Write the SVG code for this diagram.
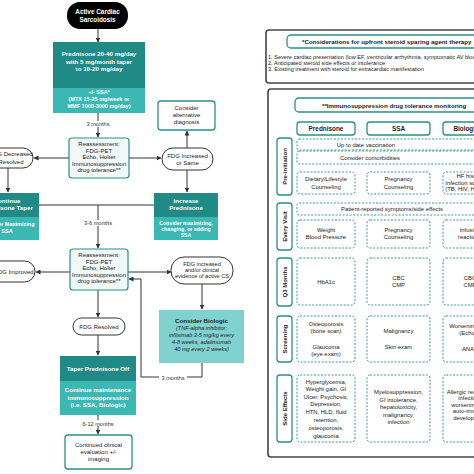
<svg xmlns="http://www.w3.org/2000/svg" width="474" height="474" viewBox="0 0 474 474">
<defs>
<marker id="ah" markerWidth="5" markerHeight="5" refX="4.5" refY="2.5" orient="auto" markerUnits="userSpaceOnUse"><path d="M0,0 L5,2.5 L0,5 Z" fill="#333"/></marker>
<style>
text{font-family:"Liberation Sans",Arial,sans-serif;text-anchor:middle}
.w{fill:#fff;font-weight:bold;font-size:6.2px}
.wl{fill:#fff;font-weight:bold;font-size:5.5px}
.d{fill:#222;font-size:6px}
.db{fill:#222;font-size:6.2px;font-weight:bold}
.i{fill:#222;font-size:5.6px;font-style:italic}
.lab{fill:#333;font-size:5.6px}
.s{fill:#222;font-size:5.9px}
.sb{fill:#222;font-size:6.2px;font-weight:bold}
.hb{fill:#222;font-size:6.4px;font-weight:bold}
.lb{fill:#222;font-size:6px;font-weight:bold}
.ln{fill:#222;font-size:5.6px;text-anchor:start}
.dk{fill:#1f8a86}
.lt{fill:#3bb7b4}
.pl{fill:#7fd2cf}
.rb{fill:#f1f8f8;stroke:#2a8f8a;stroke-width:1.2}
.pill{fill:#fff;stroke:#333;stroke-width:1}
.hd{fill:#fff;stroke:#2a8f8a;stroke-width:1.3}
.ds{fill:none;stroke:#2a8f8a;stroke-width:0.9;stroke-dasharray:2,1.5}
.ob{fill:#fff;stroke:#444;stroke-width:1.6}
.c{fill:none;stroke:#333;stroke-width:1}
.a{fill:none;stroke:#333;stroke-width:1;marker-end:url(#ah)}
</style>
</defs>
<rect width="474" height="474" fill="#fff"/>

<g id="connectors">
<path class="a" d="M98,29 V42"/>
<path class="a" d="M98,113 V137"/>
<path class="a" d="M69,158 H34"/>
<path class="a" d="M129,158 H161"/>
<path class="a" d="M187,148 V131"/>
<path class="a" d="M8,168 V192"/>
<path class="a" d="M187,170 V192"/>
<path class="c" d="M39,205 H154"/>
<path class="a" d="M98,205 V248"/>
<path class="a" d="M70,272 H36"/>
<path class="a" d="M128,272 H171"/>
<path class="a" d="M202,284 V309"/>
<path class="a" d="M202,363 V377 H141 V279 H129"/>
<path class="a" d="M98,290 V317"/>
<path class="a" d="M98,335 V355"/>
<path class="a" d="M98,415 V434"/>
<rect x="85" y="121" width="26" height="6" fill="#fff"/>
<text class="lab" x="98" y="126">3 months</text>
<rect x="82" y="220" width="32" height="6" fill="#fff"/>
<text class="lab" x="98" y="225">3-6 months</text>
<rect x="159" y="374" width="28" height="6" fill="#fff"/>
<text class="lab" x="173" y="379.5">3 months</text>
<rect x="82" y="420" width="32" height="6" fill="#fff"/>
<text class="lab" x="98" y="425.5">6-12 months</text>
</g>

<g id="start">
<rect x="67" y="2" width="61" height="27" rx="13" fill="#000"/>
<text class="w" x="97.5" y="14" style="font-size:6.4px">Active Cardiac</text>
<text class="w" x="97.5" y="22" style="font-size:6.4px">Sarcoidosis</text>
</g>

<g id="prednisone">
<rect class="dk" x="53" y="42" width="92" height="46"/>
<text class="w" x="99" y="56">Prednisone 20-40 mg/day</text>
<text class="w" x="99" y="63.5">with 5 mg/month taper</text>
<text class="w" x="99" y="71">to 10-20 mg/day</text>
<rect class="lt" x="53" y="88" width="92" height="25"/>
<text class="wl" x="99" y="94">+/- SSA*</text>
<text class="wl" x="99" y="101">(MTX 15-25 mg/week or</text>
<text class="wl" x="99" y="108">MMF 1000-3000 mg/day)</text>
</g>

<g id="reassess1">
<rect class="rb" x="69" y="138" width="60" height="40" rx="3"/>
<text class="d" x="99" y="146">Reassessment:</text>
<text class="d" x="99" y="152.5">FDG-PET</text>
<text class="d" x="99" y="159">Echo, Holter</text>
<text class="d" x="99" y="165.5">Immunosuppression</text>
<text class="d" x="99" y="172">drug tolerance**</text>
</g>

<g id="decreased">
<rect class="pill" x="-11" y="148" width="44" height="20" rx="10"/>
<text class="d" x="11" y="156">FDG Decreased</text>
<text class="d" x="11" y="164">Resolved</text>
</g>

<g id="increased1">
<rect class="pill" x="162" y="148" width="51" height="22" rx="11"/>
<text class="d" x="187.5" y="157.5">FDG Increased</text>
<text class="d" x="187.5" y="164.5">or Same</text>
</g>

<g id="alternative">
<rect class="hd" x="158" y="101" width="57" height="29" rx="3"/>
<text class="d" x="186.5" y="110">Consider</text>
<text class="d" x="186.5" y="117">alternative</text>
<text class="d" x="186.5" y="124">diagnosis</text>
</g>

<g id="continuetaper">
<rect class="dk" x="-20" y="193" width="59" height="24"/>
<text class="w" x="7" y="202.5">Continue</text>
<text class="w" x="7" y="210">Prednisone Taper</text>
<rect class="lt" x="-20" y="217" width="59" height="23"/>
<text class="wl" x="7" y="226">Consider Maximizing</text>
<text class="wl" x="7" y="233">SSA</text>
</g>

<g id="increase">
<rect class="dk" x="154" y="193" width="64" height="24"/>
<text class="w" x="186" y="202.5">Increase</text>
<text class="w" x="186" y="210">Prednisone</text>
<rect class="lt" x="154" y="217" width="64" height="23"/>
<text class="wl" x="186" y="224.5" style="font-size:5.2px">Consider maximizing,</text>
<text class="wl" x="186" y="230.5" style="font-size:5.2px">changing, or adding</text>
<text class="wl" x="186" y="236.5" style="font-size:5.2px">SSA</text>
</g>

<g id="reassess2">
<rect class="rb" x="70" y="249" width="58" height="41" rx="3"/>
<text class="d" x="99" y="257">Reassessment:</text>
<text class="d" x="99" y="263.5">FDG-PET</text>
<text class="d" x="99" y="270">Echo, Holter</text>
<text class="d" x="99" y="276.5">Immunosuppression</text>
<text class="d" x="99" y="283">drug tolerance**</text>
</g>

<g id="improved">
<rect class="pill" x="-12" y="261" width="47" height="21" rx="10.5"/>
<text class="d" x="14" y="273.5">FDG Improved</text>
</g>

<g id="increased2">
<rect class="pill" x="171" y="257" width="62" height="27" rx="13"/>
<text class="i" x="202" y="265.5" style="font-style:normal">FDG increased</text>
<text class="i" x="202" y="271.5" style="font-style:normal">and/or clinical</text>
<text class="i" x="202" y="277.5" style="font-style:normal">evidence of active CS</text>
</g>

<g id="biologic">
<rect class="pl" x="159" y="310" width="85" height="53"/>
<text class="db" x="201.5" y="323">Consider Biologic</text>
<text class="i" x="201.5" y="330">(TNF-alpha inhibitor:</text>
<text class="i" x="201.5" y="337">infliximab 3-5 mg/kg every</text>
<text class="i" x="201.5" y="344">4-8 weeks, adalimumab</text>
<text class="i" x="201.5" y="351">40 mg every 2 weeks)</text>
</g>

<g id="resolved">
<rect class="pill" x="73" y="318" width="52" height="17" rx="8.5"/>
<text class="d" x="99" y="328.5">FDG Resolved</text>
</g>

<g id="taperoff">
<rect class="dk" x="60" y="356" width="76" height="25"/>
<text class="w" x="98" y="370.5">Taper Prednisone Off</text>
<rect class="lt" x="60" y="381" width="76" height="34"/>
<text class="w" x="98" y="392">Continue maintenance</text>
<text class="w" x="98" y="399.5">immunosuppression</text>
<text class="w" x="98" y="407">(i.e. SSA, Biologic)</text>
</g>

<g id="continued">
<rect class="hd" x="65" y="435" width="67" height="34" rx="3"/>
<text class="d" x="98.5" y="447">Continued clinical</text>
<text class="d" x="98.5" y="454">evaluation +/-</text>
<text class="d" x="98.5" y="461">imaging</text>
</g>

<g id="considerations">
<rect class="ob" x="266" y="30" width="222" height="53" rx="3"/>
<rect class="hd" x="287" y="35" width="200" height="13" rx="4"/>
<text class="sb" x="302" y="44" style="text-anchor:start">*Considerations for upfront steroid sparing agent therapy</text>
<text class="ln" x="268" y="59">1. Severe cardiac presentation (low EF, ventricular arrhythmia, symptomatic AV block)</text>
<text class="ln" x="268" y="65">2. Anticipated steroid side effects or intolerance</text>
<text class="ln" x="268" y="71">3. Existing treatment with steroid for extracardiac manifestation</text>
</g>

<g id="monitoring">
<rect class="ob" x="268" y="89" width="222" height="368" rx="3"/>
<rect class="hd" x="295" y="98" width="200" height="14" rx="4"/>
<text class="sb" x="322" y="107.5" style="text-anchor:start">**Immunosuppression drug tolerance monitoring</text>
<rect class="hd" x="297" y="122" width="58" height="13" rx="3"/>
<text class="hb" x="326" y="130.8">Prednisone</text>
<rect class="hd" x="367" y="122" width="63" height="13" rx="3"/>
<text class="hb" x="398.5" y="130.8">SSA</text>
<rect class="hd" x="443" y="122" width="63" height="13" rx="3"/>
<text class="hb" x="466" y="130.8">Biologic</text>

<rect class="hd" x="277" y="138" width="15" height="57" rx="3"/>
<text class="lb" transform="translate(286.5,166.5) rotate(-90)">Pre-initiation</text>
<rect class="hd" x="277" y="203" width="15" height="47" rx="3"/>
<text class="lb" transform="translate(286.5,226.5) rotate(-90)">Every Visit</text>
<rect class="hd" x="277" y="258" width="15" height="48" rx="3"/>
<text class="lb" transform="translate(286.5,282) rotate(-90)">Q3 Months</text>
<rect class="hd" x="277" y="316" width="15" height="46" rx="3"/>
<text class="lb" transform="translate(286.5,339) rotate(-90)">Screening</text>
<rect class="hd" x="277" y="375" width="15" height="67" rx="3"/>
<text class="lb" transform="translate(286.5,408.5) rotate(-90)">Side Effects</text>

<rect class="ds" x="297" y="139" width="209" height="11" rx="2"/>
<text class="s" x="366" y="146.8">Up to date vaccination</text>
<rect class="ds" x="297" y="151" width="209" height="13" rx="2"/>
<text class="s" x="370" y="159.5">Consider comorbidities</text>
<rect class="ds" x="297" y="172" width="58" height="22" rx="3"/>
<text class="s" x="326" y="181">Dietary/Lifestyle</text>
<text class="s" x="326" y="188.5">Counseling</text>
<rect class="ds" x="367" y="172" width="63" height="22" rx="3"/>
<text class="s" x="398.5" y="181">Pregnancy</text>
<text class="s" x="398.5" y="188.5">Counseling</text>
<rect class="ds" x="443" y="172" width="63" height="22" rx="3"/>
<text class="s" x="470" y="178">HF history</text>
<text class="s" x="470" y="184.5">Infection screening</text>
<text class="s" x="470" y="191">(TB, HIV, Hep B/C)</text>

<rect class="ds" x="297" y="203" width="209" height="12" rx="2"/>
<text class="s" x="392" y="211">Patient-reported symptoms/side effects</text>
<rect class="ds" x="297" y="220" width="58" height="28" rx="3"/>
<text class="s" x="326" y="231.5">Weight</text>
<text class="s" x="326" y="238.5">Blood Pressure</text>
<rect class="ds" x="367" y="220" width="63" height="28" rx="3"/>
<text class="s" x="398.5" y="231.5">Pregnancy</text>
<text class="s" x="398.5" y="238.5">Counseling</text>
<rect class="ds" x="443" y="220" width="63" height="28" rx="3"/>
<text class="s" x="470" y="231.5">Infusion</text>
<text class="s" x="470" y="238.5">reactions</text>

<rect class="ds" x="297" y="258" width="58" height="47" rx="3"/>
<text class="s" x="326" y="283.5">HbA1c</text>
<rect class="ds" x="367" y="258" width="63" height="47" rx="3"/>
<text class="s" x="398.5" y="280">CBC</text>
<text class="s" x="398.5" y="287">CMP</text>
<rect class="ds" x="443" y="258" width="63" height="47" rx="3"/>
<text class="s" x="470" y="280">CBC</text>
<text class="s" x="470" y="287">CMP</text>

<rect class="ds" x="297" y="316" width="58" height="46" rx="3"/>
<text class="s" x="326" y="325.5">Osteoporosis</text>
<text class="s" x="326" y="332.5">(bone scan)</text>
<text class="s" x="326" y="349">Glaucoma</text>
<text class="s" x="326" y="356">(eye exam)</text>
<rect class="ds" x="367" y="316" width="63" height="46" rx="3"/>
<text class="s" x="398.5" y="333">Malignancy</text>
<text class="s" x="398.5" y="349">Skin exam</text>
<rect class="ds" x="443" y="316" width="63" height="46" rx="3"/>
<text class="s" x="468" y="328">Worsening HF</text>
<text class="s" x="468" y="334.5">(Echo)</text>
<text class="s" x="468" y="351">ANA</text>

<rect class="ds" x="297" y="375" width="58" height="67" rx="3"/>
<text class="s" x="326" y="383.5">Hyperglycemia,</text>
<text class="s" x="326" y="391">Weight gain, GI</text>
<text class="s" x="326" y="398.5">Ulcer, Psychosis,</text>
<text class="s" x="326" y="406">Depression,</text>
<text class="s" x="326" y="413.5">HTN, HLD, fluid</text>
<text class="s" x="326" y="421.5">retention,</text>
<text class="s" x="326" y="429.5">osteoporosis,</text>
<text class="s" x="326" y="437.5">glaucoma</text>
<rect class="ds" x="367" y="375" width="63" height="67" rx="3"/>
<text class="s" x="398.5" y="394">Myelosuppression,</text>
<text class="s" x="398.5" y="401.5">GI intolerance,</text>
<text class="s" x="398.5" y="409">hepatotoxicity,</text>
<text class="s" x="398.5" y="416.5">malignancy,</text>
<text class="s" x="398.5" y="424">infection</text>
<rect class="ds" x="443" y="375" width="63" height="67" rx="3"/>
<text class="s" x="470" y="393.5">Allergic reactions,</text>
<text class="s" x="470" y="400">infection,</text>
<text class="s" x="470" y="406.5">worsening HF,</text>
<text class="s" x="470" y="413">auto-immune</text>
<text class="s" x="470" y="419.5">development</text>
</g>
</svg>
